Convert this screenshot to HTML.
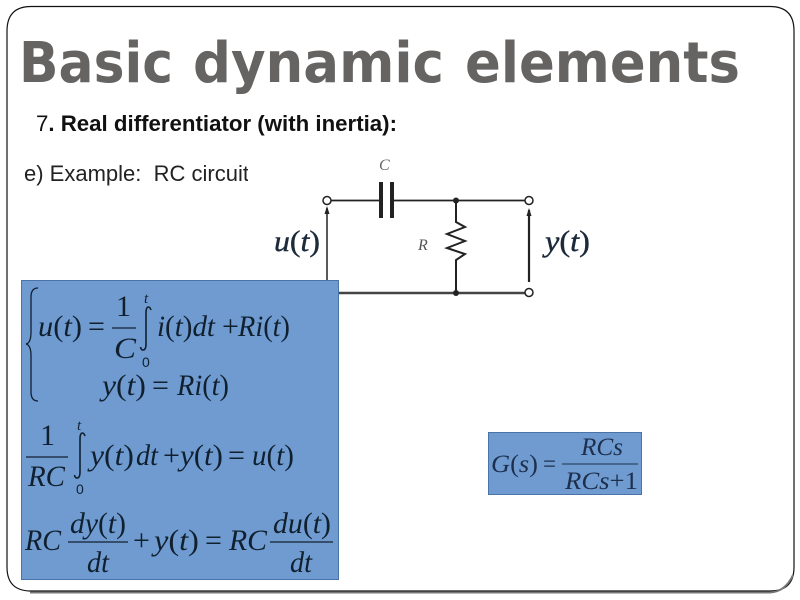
<!DOCTYPE html>
<html><head><meta charset="utf-8"><style>
html,body{margin:0;padding:0;background:#fff;width:800px;height:600px;overflow:hidden}
svg{display:block}
.s{font-family:"Liberation Serif",serif;font-style:normal}
.i{font-family:"Liberation Serif",serif;font-style:italic}
.a{font-family:"Liberation Sans",sans-serif}
.m{font-size:30px}
.n{font-size:25px;fill:#1d2f4d}
text{fill:#10202f;white-space:pre}
</style></head><body>
<svg width="800" height="600" viewBox="0 0 800 600" xmlns="http://www.w3.org/2000/svg">
<rect width="800" height="600" fill="#fff"/>
<path d="M31 6.500H770Q794 6.500 794 31V567Q794 591 770 591H31Q7 591 7 567V31Q7 6.500 31 6.500Z" fill="#fff" stroke="#111" stroke-width="1.200"/>
<path d="M30 592.500H770Q785 592 793 575" fill="none" stroke="#777" stroke-width="2"/>

<g style="font-family:'DejaVu Sans',sans-serif;font-weight:bold;font-size:56px">
<text x="19" y="82" textLength="154" lengthAdjust="spacingAndGlyphs" style="fill:#666462">Basic</text>
<text x="193" y="82" textLength="251" lengthAdjust="spacingAndGlyphs" style="fill:#666462">dynamic</text>
<text x="465" y="82" textLength="275" lengthAdjust="spacingAndGlyphs" style="fill:#666462">elements</text>
</g>
<text x="36" y="131" class="a" textLength="361" lengthAdjust="spacingAndGlyphs" style="font-size:22px;fill:#111">7<tspan font-weight="bold">. Real differentiator (with inertia):</tspan></text>
<text x="24" y="181" class="a" style="font-size:22px;fill:#222">e) Example:  RC circuit</text>
<rect x="248" y="160" width="12" height="30" fill="#fff"/>

<!-- circuit -->
<g fill="none" stroke="#222">
<path d="M331 200.500H382M392 200.500H525" stroke-width="1.800"/>
<path d="M381 182V218M392 182V218" stroke-width="4"/>
<path d="M456 200V222L465 227L447 234L465 241L447 248L465 254L456 260V293" stroke-width="2"/>
<path d="M327 280V208" stroke-width="1.500"/>
<path d="M529 282V210" stroke-width="2.200"/>
<path d="M338 293H525" stroke="#444" stroke-width="2.500"/>
<circle cx="327" cy="200.500" r="4" fill="#fff" stroke-width="1.500"/>
<circle cx="529" cy="200.500" r="4" fill="#fff" stroke-width="1.500"/>
<circle cx="529" cy="292.500" r="4" fill="#fff" stroke-width="1.500"/>
</g>
<circle cx="456" cy="200.500" r="3" fill="#222"/>
<circle cx="456" cy="293" r="3" fill="#222"/>
<path d="M327 206l-2.500 8h5zM529 208l-2.500 8h5z" fill="#222"/>
<text x="379" y="170" class="i" style="font-size:16px;fill:#666">C</text>
<text x="418" y="250" class="i" style="font-size:16px;fill:#555">R</text>
<text x="274" y="251" class="i m" textLength="46" lengthAdjust="spacingAndGlyphs" style="fill:#1c2a3a;stroke:#1c2a3a;stroke-width:.4">u<tspan class="s">(</tspan>t<tspan class="s">)</tspan></text>
<text x="545" y="251" class="i m" textLength="45" lengthAdjust="spacingAndGlyphs" style="fill:#1c2a3a;stroke:#1c2a3a;stroke-width:.4">y<tspan class="s">(</tspan>t<tspan class="s">)</tspan></text>

<!-- left box -->
<rect x="21.500" y="280.500" width="317" height="299" fill="#6f9bd1" stroke="#4a74a8"/>
<path d="M38 288Q31 288 31 297V332Q31 343 26 344Q31 345 31 356V392Q31 401 38 401" fill="none" stroke="#10202f" stroke-width="1.300"/>

<text x="38" y="336" class="i m" textLength="44" lengthAdjust="spacingAndGlyphs">u<tspan class="s">(</tspan>t<tspan class="s">)</tspan></text>
<text x="88" y="336" class="s m">=</text>
<text x="116" y="316" class="s m">1</text>
<path d="M112 328H136" stroke="#10202f" stroke-width="1.200"/>
<text x="114" y="358" class="i m" textLength="22" lengthAdjust="spacingAndGlyphs">C</text>
<text x="144" y="303" class="i" style="font-size:15px">t</text>
<text x="142" y="367" class="a" style="font-size:14px">0</text>
<path id="int" d="M151 310Q150 307 148.500 307Q146 307 146 313V344Q146 350 143 350Q141 350 140.500 347" fill="none" stroke="#10202f" stroke-width="1.600"/>
<text x="157" y="336" class="i m" textLength="58" lengthAdjust="spacingAndGlyphs">i<tspan class="s">(</tspan>t<tspan class="s">)</tspan>dt</text>
<text x="222" y="336" class="s m">+</text>
<text x="238" y="336" class="i m" textLength="52" lengthAdjust="spacingAndGlyphs">Ri<tspan class="s">(</tspan>t<tspan class="s">)</tspan></text>

<text x="102" y="395" class="i m" textLength="44" lengthAdjust="spacingAndGlyphs">y<tspan class="s">(</tspan>t<tspan class="s">)</tspan></text>
<text x="152" y="395" class="s m">=</text>
<text x="177" y="395" class="i m" textLength="52" lengthAdjust="spacingAndGlyphs">Ri<tspan class="s">(</tspan>t<tspan class="s">)</tspan></text>

<text x="40" y="445" class="s m">1</text>
<path d="M26 457H68" stroke="#10202f" stroke-width="1.200"/>
<text x="28" y="486" class="i m" textLength="37" lengthAdjust="spacingAndGlyphs">RC</text>
<text x="77" y="430" class="i" style="font-size:15px">t</text>
<text x="76" y="494" class="a" style="font-size:14px">0</text>
<path d="M85 436Q84 433 82.500 433Q80 433 80 439V472Q80 478 77 478Q75 478 74.500 475" fill="none" stroke="#10202f" stroke-width="1.600"/>
<text x="90" y="465" class="i m" textLength="44" lengthAdjust="spacingAndGlyphs">y<tspan class="s">(</tspan>t<tspan class="s">)</tspan></text>
<text x="136" y="465" class="i m" textLength="22" lengthAdjust="spacingAndGlyphs">dt</text>
<text x="163" y="465" class="s m">+</text>
<text x="180" y="465" class="i m" textLength="43" lengthAdjust="spacingAndGlyphs">y<tspan class="s">(</tspan>t<tspan class="s">)</tspan></text>
<text x="228" y="465" class="s m">=</text>
<text x="252" y="465" class="i m" textLength="42" lengthAdjust="spacingAndGlyphs">u<tspan class="s">(</tspan>t<tspan class="s">)</tspan></text>

<text x="25" y="550" class="i m" textLength="36" lengthAdjust="spacingAndGlyphs">RC</text>
<text x="70" y="533" class="i m" textLength="56" lengthAdjust="spacingAndGlyphs">dy<tspan class="s">(</tspan>t<tspan class="s">)</tspan></text>
<path d="M68 542H128" stroke="#10202f" stroke-width="1.200"/>
<text x="87" y="572" class="i m" textLength="22" lengthAdjust="spacingAndGlyphs">dt</text>
<text x="133" y="550" class="s m">+</text>
<text x="154" y="550" class="i m" textLength="45" lengthAdjust="spacingAndGlyphs">y<tspan class="s">(</tspan>t<tspan class="s">)</tspan></text>
<text x="205" y="550" class="s m">=</text>
<text x="229" y="550" class="i m" textLength="38" lengthAdjust="spacingAndGlyphs">RC</text>
<text x="273" y="533" class="i m" textLength="58" lengthAdjust="spacingAndGlyphs">du<tspan class="s">(</tspan>t<tspan class="s">)</tspan></text>
<path d="M270 542H333" stroke="#10202f" stroke-width="1.200"/>
<text x="290" y="572" class="i m" textLength="22" lengthAdjust="spacingAndGlyphs">dt</text>

<!-- right box -->
<rect x="488.500" y="432.500" width="153" height="62" fill="#6f9bd1" stroke="#4a74a8"/>
<text x="491" y="472" class="i n" textLength="47" lengthAdjust="spacingAndGlyphs">G<tspan class="s">(</tspan>s<tspan class="s">)</tspan></text>
<text x="543" y="472" class="s n" textLength="13" lengthAdjust="spacingAndGlyphs">=</text>
<text x="581" y="455" class="i n" textLength="42" lengthAdjust="spacingAndGlyphs">RCs</text>
<path d="M562 464H638" stroke="#1d2f4d" stroke-width="1"/>
<text x="565" y="489" class="i n" textLength="73" lengthAdjust="spacingAndGlyphs">RCs<tspan class="s">+1</tspan></text>
</svg>
</body></html>
